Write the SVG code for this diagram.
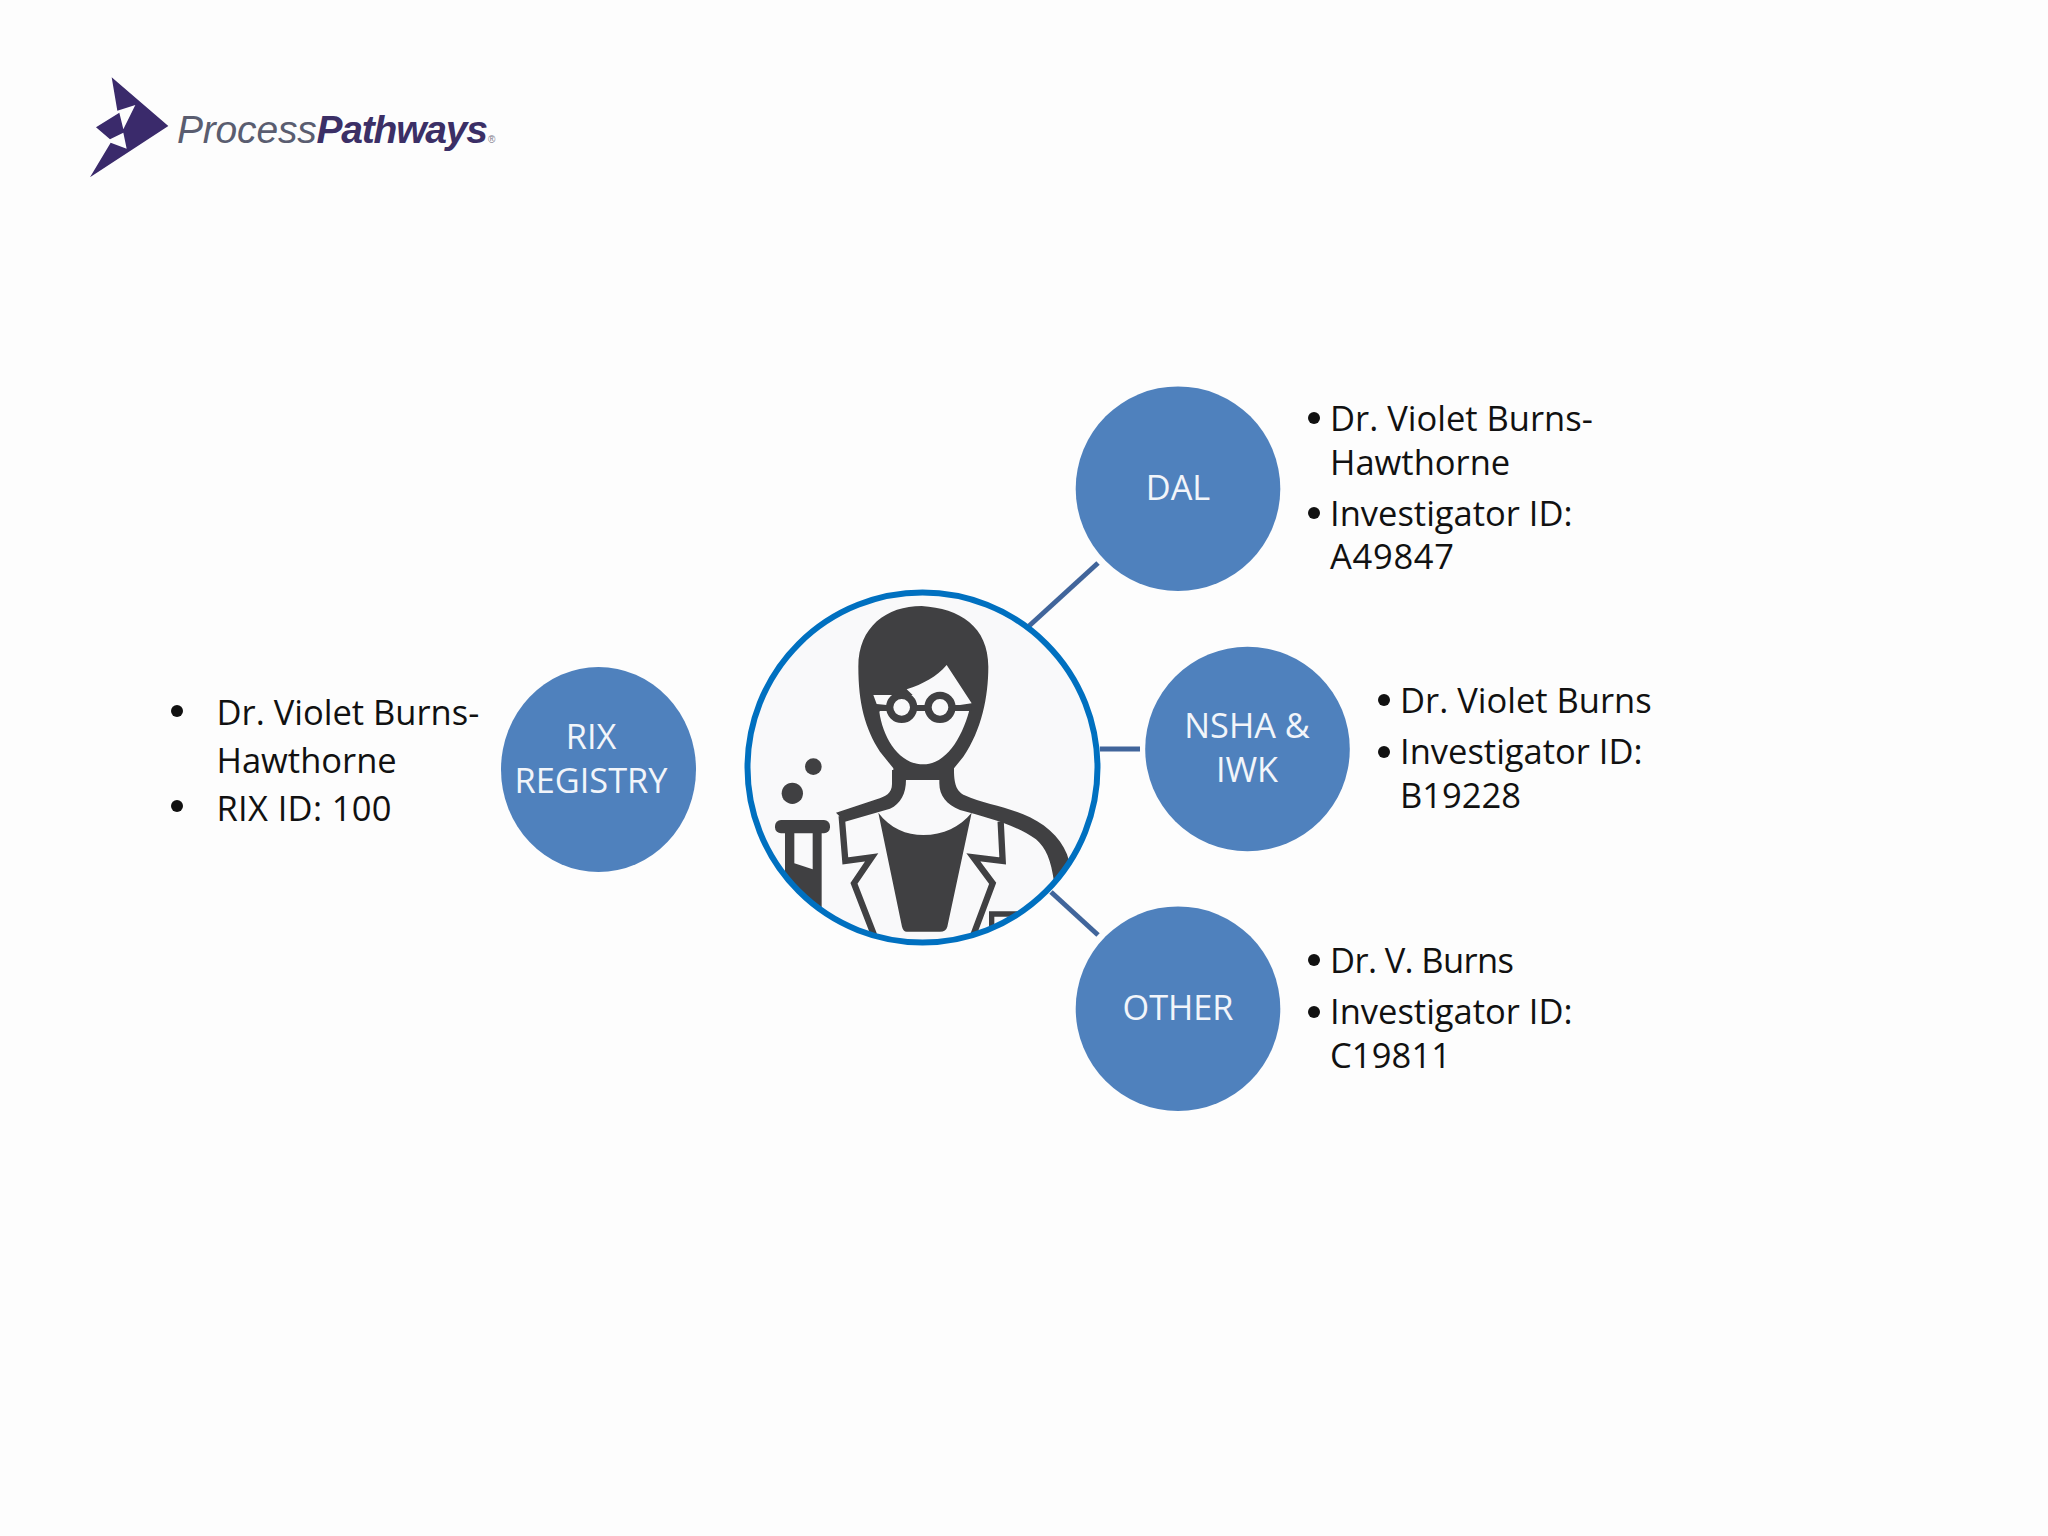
<svg xmlns="http://www.w3.org/2000/svg" width="2048" height="1536" viewBox="0 0 2048 1536">
<style>
.t{font-family:"Open Sans","Noto Sans",sans-serif;font-size:34.5px;fill:#111}
.c{font-family:"Open Sans","Noto Sans",sans-serif;font-size:34.3px;fill:#f2f5fa;text-anchor:middle}
.n{fill:#4f81bd}
.d{fill:#404042}
.l{fill:none;stroke:#404042;stroke-linejoin:miter}
.w{fill:#f9f9fa}
.b{fill:#111}
</style>
<defs><clipPath id="clip"><circle cx="922.5" cy="767.5" r="175"/></clipPath></defs>
<rect width="2048" height="1536" fill="#fdfdfd"/>
<g id="logo">
<g transform="translate(60,50) scale(.33333)">
<path d="M155,82L325,228L90,382L152,278L200,296L190,248L150,268L108,232L178,188L190,238L226,165L172,182Z" fill="#3a2a6b"/>
</g>
<text x="177" y="143" font-family="Liberation Sans,Arial,sans-serif" font-style="italic" font-size="39"><tspan fill="#5a5d70" letter-spacing="-.2">Process</tspan><tspan fill="#3b2f66" font-weight="bold" letter-spacing="-1.2">Pathways</tspan></text>
<text x="488" y="143" font-family="Liberation Sans,Arial,sans-serif" font-size="10" fill="#7a7a8a">®</text>
</g>
<g id="connectors" fill="none" stroke="#41659b" stroke-width="5">
<path d="M1098,563L1029,626"/>
<path d="M1100,749H1140"/>
<path d="M1051,892L1098,935"/>
</g>
<g id="center">
<circle class="w" cx="922.5" cy="767.5" r="175"/>
<g clip-path="url(#clip)">
<g transform="translate(730,580) scale(.33333)">
<path class="d" d="M575,78C690,85 775,140 775,260C775,350 755,450 700,530L672,565V600H490V565L450,515C405,445 385,370 385,260C385,140 470,78 575,78Z"/>
<path class="w" d="M650,255C620,290 580,312 530,328L548,345H430L440,372L470,375L448,395C458,470 505,553 580,553C650,553 700,470 722,375L690,375L725,370Z"/>
<path class="l" stroke-width="18" d="M435,384H480M670,384H725M555,384H595"/>
<circle cx="515" cy="382" r="36" fill="#f9f9fa" stroke="#404042" stroke-width="22"/>
<circle cx="630" cy="382" r="36" fill="#f9f9fa" stroke="#404042" stroke-width="22"/>
<path class="d" d="M486,570V612C486,640 466,650 440,658L318,698L345,725L480,686C512,672 528,640 528,600V570Z"/>
<path class="d" d="M628,570V610C628,648 650,674 690,690C770,712 860,735 918,778C948,804 963,840 972,905L1018,845C1003,785 960,742 900,712C840,682 760,672 704,646C684,636 672,620 672,570Z"/>
<path class="d" d="M445,698C480,745 530,765 580,765C640,765 690,740 725,698L652,1040Q648,1055 630,1055H530Q520,1055 516,1040Z"/>
<path class="l" stroke-width="19" d="M335,708L346,843L425,832L372,910L432,1065"/>
<path class="l" stroke-width="19" d="M812,725L818,843L730,832L788,910L730,1065"/>
<path class="l" stroke-width="16" d="M785,1070V1002H880"/>
<rect class="d" x="135" y="720" width="165" height="40" rx="18"/>
<path class="d" d="M165,750H275V1100H165Z"/>
<path class="w" d="M193,760H248V868L193,850Z"/>
<circle class="d" cx="187" cy="640" r="32"/>
<circle class="d" cx="250" cy="560" r="25"/>
</g>
</g>
<circle cx="922.5" cy="767.5" r="175" fill="none" stroke="#0070c0" stroke-width="6"/>
</g>
<g id="dal"><circle class="n" cx="1178" cy="488.7" r="102.3"/><text class="c" x="1178" y="500">DAL</text></g>
<g id="nsha"><circle class="n" cx="1247.5" cy="749" r="102.3"/><text class="c" x="1247" y="738">NSHA &amp;</text><text class="c" x="1247" y="782">IWK</text></g>
<g id="other"><circle class="n" cx="1178" cy="1008.7" r="102.3"/><text class="c" x="1178" y="1020">OTHER</text></g>
<g id="rix"><ellipse class="n" cx="598.5" cy="769.5" rx="97.5" ry="102.5"/><text class="c" x="591" y="749">RIX</text><text class="c" x="591" y="793">REGISTRY</text></g>
<g id="dal-text">
<circle class="b" cx="1314" cy="418" r="6"/><text class="t" x="1330" y="431">Dr. Violet Burns-</text><text class="t" x="1330" y="475">Hawthorne</text>
<circle class="b" cx="1314" cy="513" r="6"/><text class="t" x="1330" y="526">Investigator ID:</text><text class="t" x="1330" y="569" textLength="124">A49847</text>
</g>
<g id="nsha-text">
<circle class="b" cx="1384" cy="700" r="6"/><text class="t" x="1400" y="713">Dr. Violet Burns</text>
<circle class="b" cx="1384" cy="752" r="6"/><text class="t" x="1400" y="764">Investigator ID:</text><text class="t" x="1400" y="808">B19228</text>
</g>
<g id="other-text">
<circle class="b" cx="1314" cy="960" r="6"/><text class="t" x="1330" y="973" textLength="184">Dr. V. Burns</text>
<circle class="b" cx="1314" cy="1012" r="6"/><text class="t" x="1330" y="1024">Investigator ID:</text><text class="t" x="1330" y="1068" textLength="121">C19811</text>
</g>
<g id="rix-text">
<circle class="b" cx="177" cy="711" r="6"/><text class="t" x="216.5" y="725">Dr. Violet Burns-</text><text class="t" x="216.5" y="773">Hawthorne</text>
<circle class="b" cx="177" cy="806" r="6"/><text class="t" x="216.5" y="821" textLength="175">RIX ID: 100</text>
</g>
</svg>
